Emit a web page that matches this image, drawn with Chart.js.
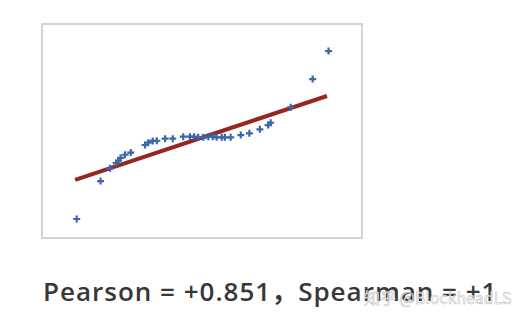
<!DOCTYPE html>
<html>
<head>
<meta charset="utf-8">
<script src="https://cdn.jsdelivr.net/npm/chart.js@4"></script>
<style>
  body { margin: 0; width: 528px; height: 330px; background: #fff; position: relative; overflow: hidden; }
  #box { position: absolute; left: 43px; top: 25px; width: 318px; height: 212px; outline: 2px solid #d4d4d4; }
  #caption { position: absolute; left: 43px; top: 278px; font-family: "Open Sans", "Noto Sans CJK SC", sans-serif; font-size: 26px; line-height: 26px; font-weight: 600; letter-spacing: 1px; color: #383838; white-space: nowrap; }
  #mark { position: absolute; left: 364px; top: 288px; font-family: "Noto Sans CJK SC", "Noto Sans", sans-serif; font-size: 16px; line-height: 18px; color: rgba(255,255,255,0.8); -webkit-text-stroke: 0.5px #b8b8b8; white-space: nowrap; }
</style>
</head>
<body>
<div id="box"><canvas id="chart" width="318" height="212"></canvas></div>
<div id="caption">Pearson = +0.851，Spearman = +1</div>
<div id="mark">知乎 @BlockheadLS</div>
<script>
// sample values (blue), axes are 0..100 on both sides
const sampleX = [10.6, 18.1, 21.1, 23.0, 23.7, 24.4, 25.8, 27.6, 32.1, 33.1, 34.5, 35.8, 38.4, 40.8,
    44.1, 46.2, 47.5, 48.8, 50.4, 52.0, 53.4, 54.6, 56.2, 57.2, 59.0, 62.2, 64.9, 68.2, 70.8, 71.6,
    77.9, 84.8, 89.8];
const sampleY = [8.5, 26.4, 32.4, 34.8, 36.0, 37.3, 38.8, 39.8, 43.4, 44.5, 45.3, 45.4, 46.4, 46.4,
    47.3, 47.3, 47.3, 47.0, 47.0, 47.3, 47.3, 47.0, 47.0, 47.0, 47.0, 48.1, 48.9, 50.8, 52.8, 53.9,
    61.2, 74.5, 87.7];
// reference line (red) end points
const lineX = [10.1, 89.3];
const lineY = [26.9, 66.5];

function toPoints(xs, ys) {
    return xs.map((x, i) => ({ x: x, y: ys[i] }));
}

const ctx = document.getElementById('chart').getContext('2d');
new Chart(ctx, {
    type: 'scatter',
    data: {
        datasets: [{
            label: 'line',
            type: 'line',
            data: toPoints(lineX, lineY),
            borderColor: '#922822',
            borderWidth: 4,
            pointRadius: 0,
            order: 2
        }, {
            label: 'sample',
            data: toPoints(sampleX, sampleY),
            pointStyle: 'cross',
            pointRadius: 3.5,
            borderWidth: 2.2,
            borderColor: '#3b67ab',
            backgroundColor: '#3b67ab',
            order: 1
        }]
    },
    options: {
        responsive: false,
        animation: false,
        layout: { padding: 0, autoPadding: false },
        plugins: { legend: { display: false }, tooltip: { enabled: false } },
        scales: {
            x: { type: 'linear', min: 0, max: 100, display: false },
            y: { type: 'linear', min: 0, max: 100, display: false }
        }
    }
});
</script>
</body>
</html>
